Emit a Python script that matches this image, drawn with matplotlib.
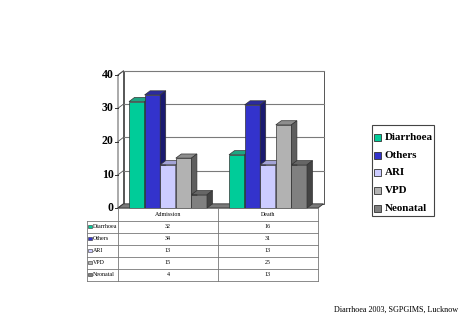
import matplotlib
matplotlib.use("Agg")
import matplotlib.pyplot as plt
from matplotlib.patches import Polygon, Rectangle

categories = ["Admission", "Death"]
series = ["Diarrhoea", "Others", "ARI", "VPD", "Neonatal"]
values = {
    "Diarrhoea": [32, 16],
    "Others": [34, 31],
    "ARI": [13, 13],
    "VPD": [15, 25],
    "Neonatal": [4, 13],
}
yticks = [0, 10, 20, 30, 40]
caption = "Diarrhoea 2003, SGPGIMS, Lucknow"

# face colours: front, top, side
front_c = ["#00CC99", "#3333CC", "#CCCCFF", "#B2B2B2", "#808080"]
top_c = ["#1FA582", "#2B2B9E", "#A3A3D6", "#8E8E8E", "#666666"]
side_c = ["#007A5C", "#1A1A70", "#9A9AC0", "#5E5E5E", "#444444"]

serif = ["Liberation Serif", "DejaVu Serif"]

W, H = 474, 316
fig = plt.figure(figsize=(W / 100, H / 100), dpi=100)
fig.patch.set_facecolor("white")

ax = fig.add_axes([118 / W, 1 - 208 / H, 200 / W, 133 / H])
ax.set_xlim(0, 2)
ax.set_ylim(0, 40)
ax.axis("off")

dx, dy = 0.055, 1.25
ymax = 40
ncat = len(categories)

# back wall
ax.add_patch(Polygon([(dx, dy), (ncat + dx, dy), (ncat + dx, ymax + dy), (dx, ymax + dy)],
                     closed=True, facecolor="white", edgecolor="#555555", lw=0.7, clip_on=False, zorder=1))
# left wall
ax.add_patch(Polygon([(0, 0), (dx, dy), (dx, ymax + dy), (0, ymax)],
                     closed=True, facecolor="white", edgecolor="#555555", lw=0.7, clip_on=False, zorder=1))
# gridlines
for t in yticks[1:]:
    ax.plot([dx, ncat + dx], [t + dy, t + dy], color="#7a7a7a", lw=0.8, clip_on=False, zorder=1.5)
for t in yticks:
    ax.plot([0, dx], [t, t + dy], color="#555555", lw=0.6, clip_on=False, zorder=1.5)
    ax.plot([-0.03, 0], [t, t], color="#333333", lw=0.7, clip_on=False, zorder=1.5)
    ax.text(-0.045, t, str(t), ha="right", va="center", fontsize=8.5, fontweight="bold",
            family=serif, color="black")
# floor
ax.add_patch(Polygon([(0, 0), (ncat, 0), (ncat + dx, dy), (dx, dy)],
                     closed=True, facecolor="#7a7a7a", edgecolor="#333333", lw=0.6, clip_on=False, zorder=2))

bw = 0.156
off = 0.11
z = 3
for c in range(ncat):
    for i, s in enumerate(series):
        x0 = c + off + i * bw
        x1 = x0 + bw
        h = values[s][c]
        ax.add_patch(Polygon([(x0, 0), (x1, 0), (x1, h), (x0, h)], closed=True,
                             facecolor=front_c[i], edgecolor="#333333", lw=0.5, clip_on=False, zorder=z))
        ax.add_patch(Polygon([(x0, h), (x1, h), (x1 + dx, h + dy), (x0 + dx, h + dy)], closed=True,
                             facecolor=top_c[i], edgecolor="#333333", lw=0.5, clip_on=False, zorder=z))
        ax.add_patch(Polygon([(x1, 0), (x1 + dx, dy), (x1 + dx, h + dy), (x1, h)], closed=True,
                             facecolor=side_c[i], edgecolor="#333333", lw=0.5, clip_on=False, zorder=z))
        z += 1

# overlay for table, legend, caption (pixel coordinates)
ox = fig.add_axes([0, 0, 1, 1])
ox.set_xlim(0, W)
ox.set_ylim(H, 0)
ox.axis("off")

lc = "#777777"
tl, c1, c2, c3 = 87, 118, 218, 318
htop, hbot = 208, 220.5
rowh = 12
ox.plot([c1, c3], [htop, htop], color=lc, lw=0.6)
for xv in (c1, c2, c3):
    ox.plot([xv, xv], [htop, hbot + rowh * len(series)], color=lc, lw=0.6)
ox.plot([tl, tl], [hbot, hbot + rowh * len(series)], color=lc, lw=0.6)
for r in range(len(series) + 1):
    yv = hbot + r * rowh
    ox.plot([tl, c3], [yv, yv], color=lc, lw=0.6)
for j, cat in enumerate(categories):
    ox.text((c1 + c2) / 2 + j * 100, (htop + hbot) / 2, cat, ha="center", va="center",
            fontsize=4.3, family=serif)
for r, s in enumerate(series):
    yc = hbot + r * rowh + rowh / 2
    ox.add_patch(Rectangle((88.5, yc - 1.8), 3.6, 3.6, facecolor=front_c[r], edgecolor="#333333", lw=0.4))
    ox.text(93, yc, s, ha="left", va="center", fontsize=4.3, family=serif)
    for j in range(ncat):
        ox.text((c1 + c2) / 2 + j * 100, yc, str(values[s][j]), ha="center", va="center",
                fontsize=4.3, family=serif)

# legend
ox.add_patch(Rectangle((372, 125), 62, 91, facecolor="white", edgecolor="#444444", lw=0.8))
for r, s in enumerate(series):
    yc = 137.5 + r * 17.7
    ox.add_patch(Rectangle((374.5, yc - 3.5), 7, 7, facecolor=front_c[r], edgecolor="#333333", lw=0.6))
    ox.text(384.5, yc, s, ha="left", va="center", fontsize=7.9, fontweight="bold", family=serif)

ox.text(458, 310, caption, ha="right", va="center", fontsize=5.85, family=serif)

fig.savefig("out.png", dpi=100)
